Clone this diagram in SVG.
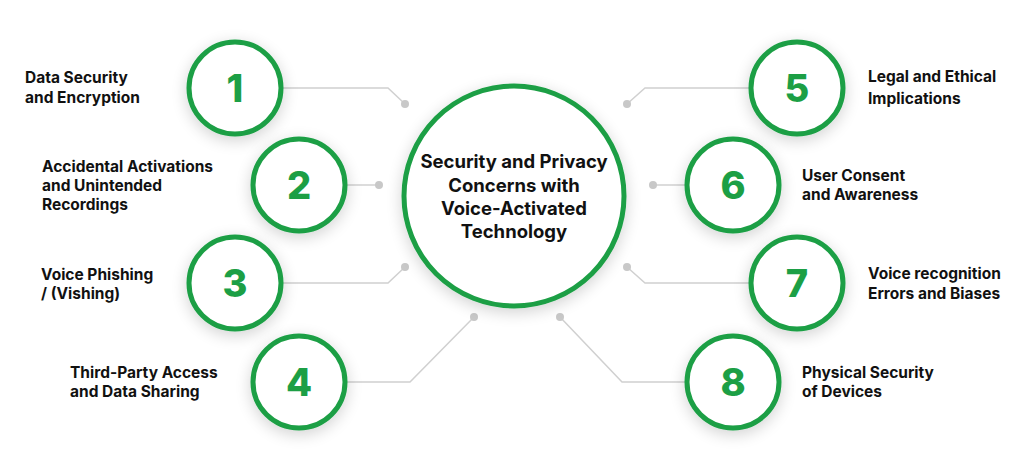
<svg xmlns="http://www.w3.org/2000/svg" width="1024" height="451" viewBox="0 0 1024 451">
<defs>
<filter id="sh" x="-50%" y="-50%" width="200%" height="200%"><feGaussianBlur in="SourceAlpha" stdDeviation="8"/><feOffset dx="0" dy="4"/><feComponentTransfer><feFuncA type="linear" slope="0.18"/></feComponentTransfer><feMerge><feMergeNode/><feMergeNode in="SourceGraphic"/></feMerge></filter>
</defs>
<style>
.c{fill:#fff;stroke:#1c9f45;stroke-width:5;filter:url(#sh)}
.n{font-family:Inter,"Liberation Sans",sans-serif;font-weight:800;font-size:38px;fill:#1c9f45;text-anchor:middle}
.t{font-family:Inter,"Liberation Sans",sans-serif;font-weight:700;font-size:15.5px;fill:#111}
.h{font-family:Inter,"Liberation Sans",sans-serif;font-weight:700;font-size:18.5px;fill:#111;text-anchor:middle}
.l{fill:none;stroke:#d0d0d0;stroke-width:1.5}
.d{fill:#c8c8c8}
</style>
<rect width="1024" height="451" fill="#fff"/>
<g id="connectors">
<path class="l" d="M282 88H388L405 104"/><circle class="d" cx="405" cy="104" r="4"/>
<path class="l" d="M346 185H379"/><circle class="d" cx="379" cy="185" r="4"/>
<path class="l" d="M282 283H388L405 267"/><circle class="d" cx="405" cy="267" r="4"/>
<path class="l" d="M346 382H410L474 317"/><circle class="d" cx="474" cy="317" r="4"/>
<path class="l" d="M750 88H645L627 104"/><circle class="d" cx="627" cy="104" r="4"/>
<path class="l" d="M686 185H653"/><circle class="d" cx="653" cy="185" r="4"/>
<path class="l" d="M750 283H645L627 267"/><circle class="d" cx="627" cy="267" r="4"/>
<path class="l" d="M686 382H622L560 317"/><circle class="d" cx="560" cy="317" r="4"/>
</g>
<g id="center"><circle class="c" cx="514" cy="196" r="110"/>
<text class="h" x="514" y="168">Security and Privacy</text>
<text class="h" x="514" y="192">Concerns with</text>
<text class="h" x="514" y="215">Voice-Activated</text>
<text class="h" x="514" y="238">Technology</text></g>
<g id="n1"><circle class="c" cx="235" cy="88" r="46"/><text class="n" x="235" y="102">1</text>
<text class="t" x="25" y="83">Data Security</text><text class="t" x="25" y="103">and Encryption</text></g>
<g id="n2"><circle class="c" cx="299" cy="185" r="46"/><text class="n" x="299" y="199">2</text>
<text class="t" x="42" y="172">Accidental Activations</text><text class="t" x="42" y="191">and Unintended</text><text class="t" x="42" y="210">Recordings</text></g>
<g id="n3"><circle class="c" cx="235" cy="283" r="46"/><text class="n" x="235" y="297">3</text>
<text class="t" x="41" y="280">Voice Phishing</text><text class="t" x="41" y="299">/ (Vishing)</text></g>
<g id="n4"><circle class="c" cx="299" cy="382" r="46"/><text class="n" x="299" y="396">4</text>
<text class="t" x="70" y="378">Third-Party Access</text><text class="t" x="70" y="397">and Data Sharing</text></g>
<g id="n5"><circle class="c" cx="797" cy="88" r="46"/><text class="n" x="797" y="102">5</text>
<text class="t" x="868" y="82">Legal and Ethical</text><text class="t" x="868" y="104">Implications</text></g>
<g id="n6"><circle class="c" cx="733" cy="185" r="46"/><text class="n" x="733" y="199">6</text>
<text class="t" x="802" y="181">User Consent</text><text class="t" x="802" y="200">and Awareness</text></g>
<g id="n7"><circle class="c" cx="797" cy="283" r="46"/><text class="n" x="797" y="297">7</text>
<text class="t" x="868" y="279">Voice recognition</text><text class="t" x="868" y="299">Errors and Biases</text></g>
<g id="n8"><circle class="c" cx="733" cy="382" r="46"/><text class="n" x="733" y="396">8</text>
<text class="t" x="802" y="378">Physical Security</text><text class="t" x="802" y="397">of Devices</text></g>
</svg>
